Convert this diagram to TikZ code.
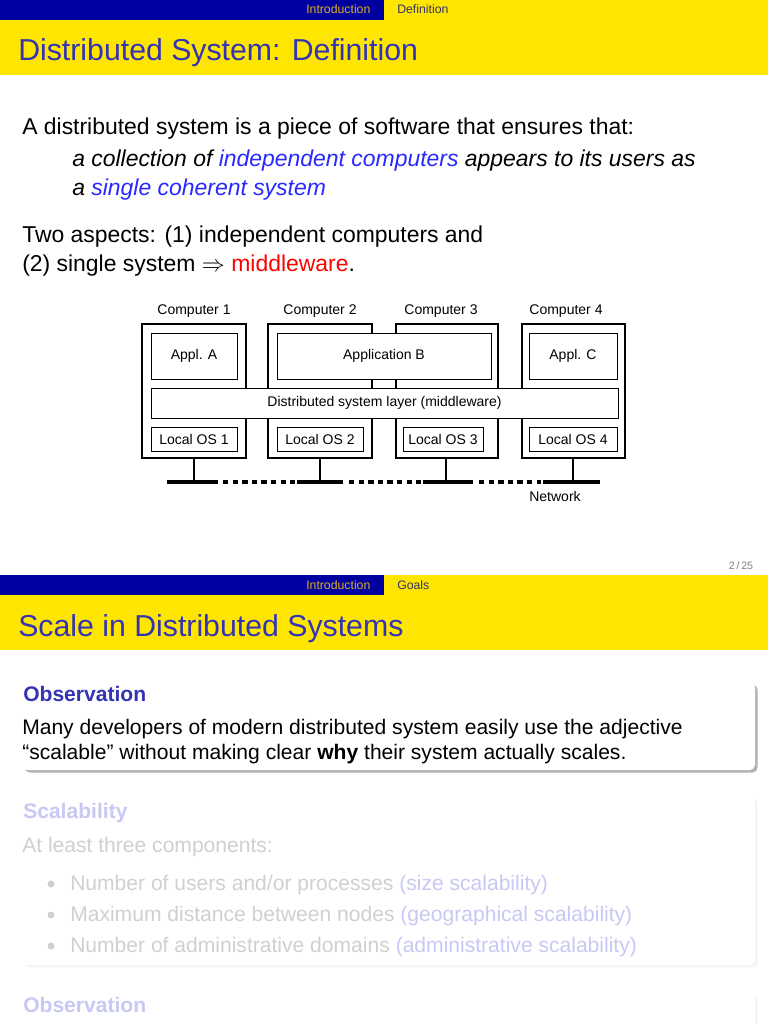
\documentclass[tikz,border=0pt]{standalone}
\usepackage{fontspec}
\setmainfont{Liberation Sans}
\usepackage{amssymb}
\usetikzlibrary{shadows}
\definecolor{navblue}{RGB}{0,0,160}
\definecolor{slideyellow}{RGB}{255,230,0}
\definecolor{titleblue}{RGB}{51,51,179}
\definecolor{navgold}{RGB}{220,175,40}
\definecolor{navdark}{RGB}{50,50,100}
\definecolor{linkblue}{RGB}{40,40,255}
\definecolor{fadegray}{RGB}{208,208,208}
\definecolor{fadeblue}{RGB}{200,200,245}
\begin{document}
\begin{tikzpicture}[x=0.75pt,y=-0.75pt,
  txt/.style={inner sep=0,anchor=base west,font=\fontsize{17.2}{20}\selectfont},
  ttl/.style={inner sep=0,anchor=base west,text=titleblue,font=\fontsize{22.7}{26}\selectfont},
  nav/.style={inner sep=0,anchor=base west,font=\fontsize{9.2}{11}\selectfont},
  comp/.style={draw,line width=1.3pt},
  inbox/.style={draw,fill=white,line width=0.7pt,font=\fontsize{10.5}{12}\selectfont},
  lbl/.style={font=\fontsize{10.5}{12}\selectfont,inner sep=0},
  net/.style={line width=2.6pt},
  netd/.style={line width=2.6pt,dash pattern=on 4pt off 3.2pt},
  btxt/.style={txt,font=\fontsize{15.8}{18}\selectfont},
  bhd/.style={txt,font=\bfseries\fontsize{15.8}{18}\selectfont},
  blk/.style={rounded corners=4pt,fill=white,drop shadow={shadow xshift=2pt,shadow yshift=-2pt,opacity=0.6}},
  fblk/.style={rounded corners=4pt,fill=white,drop shadow={shadow xshift=2pt,shadow yshift=-2pt,opacity=0.08}},
  stem/.style={line width=2pt}]
\useasboundingbox (0,0) rectangle (768,1024);
\fill[white] (0,0) rectangle (768,1024);
% ---- slide 1
\fill[navblue] (0,0) rectangle (384,20);
\fill[slideyellow] (384,0) rectangle (768,20);
\fill[slideyellow] (0,20) rectangle (768,75);
\node[nav,text=navgold] (n1) at (306,14) {Introduction};
\node[nav,text=navdark] (n2) at (397,14) {Definition};
\node[ttl] (t1) at (18,61) {Distributed System: Definition};
\node[txt] (p1) at (22,134) {A distributed system is a piece of software that ensures that:};
\node[txt] (p2) at (72,166) {\itshape a collection of \textcolor{linkblue}{independent computers} appears to its users as};
\node[txt] (p3) at (72,195) {\itshape a \textcolor{linkblue}{single coherent system}};
\node[txt] (p4) at (22,242) {Two aspects: (1) independent computers and};
\node[txt] (p5) at (22,271) {(2) single system $\Rightarrow$ \textcolor{red}{middleware}.};
% diagram
\draw[comp] (142,324) rectangle (246,458);
\draw[comp] (268,324) rectangle (372,458);
\draw[comp] (396,324) rectangle (498,458);
\draw[comp] (522,324) rectangle (625,458);
\node[lbl] (c1) at (194,311) {Computer 1};
\node[lbl] (c2) at (320,311) {Computer 2};
\node[lbl] (c3) at (441,311) {Computer 3};
\node[lbl] (c4) at (566,311) {Computer 4};
\draw[inbox] (151,333) rectangle node (aa) {Appl. A} (237,379);
\draw[inbox] (277,333) rectangle node (ab) {Application B} (491,379);
\draw[inbox] (529,333) rectangle node (ac) {Appl. C} (617,379);
\draw[inbox] (151,388) rectangle node (mw) {Distributed system layer (middleware)} (618,418);
\draw[inbox] (151,427) rectangle node (o1) {Local OS 1} (237,451);
\draw[inbox] (277,427) rectangle node (o2) {Local OS 2} (363,451);
\draw[inbox] (403,427) rectangle node (o3) {Local OS 3} (483,451);
\draw[inbox] (529,427) rectangle node (o4) {Local OS 4} (617,451);
\coordinate (s1) at (194,482); \coordinate (s2) at (320,482);
\coordinate (s3) at (446,482); \coordinate (s4) at (573,482);
\draw[stem] (194,458) -- (s1); \draw[stem] (320,458) -- (s2);
\draw[stem] (446,458) -- (s3); \draw[stem] (573,458) -- (s4);
\draw[net] (167,482) -- (218,482);
\draw[netd] (223,482) -- (295,482);
\draw[net] (297,482) -- (343,482);
\draw[netd] (349,482) -- (421,482);
\draw[net] (423,482) -- (473,482);
\draw[netd] (479,482) -- (541,482);
\draw[net] (543,482) -- (600,482);
\node[lbl] (nw) at (555,496) {Network};
\node[inner sep=0,text=gray,font=\fontsize{8}{9}\selectfont] (pg) at (741,566) {2\,/\,25};
% ---- slide 2
\fill[navblue] (0,575) rectangle (384,595);
\fill[slideyellow] (384,575) rectangle (768,595);
\fill[slideyellow] (0,595) rectangle (768,650);
\node[nav,text=navgold] (n3) at (306,589) {Introduction};
\node[nav,text=navdark] (n4) at (397,589) {Goals};
\node[ttl] (t2) at (18,636) {Scale in Distributed Systems};
\path[blk] (22,682) rectangle (755,770);
\node[bhd,text=titleblue] (o1h) at (23,701) {Observation};
\node[btxt] (o1a) at (22,734) {Many developers of modern distributed system easily use the adjective};
\node[btxt] (o1b) at (22,759) {``scalable'' without making clear \textbf{why} their system actually scales.};
\path[fblk] (22,795) rectangle (755,965);
\node[bhd,text=fadeblue] (sh) at (23,818) {Scalability};
\node[btxt,text=fadegray] (sa) at (22,852) {At least three components:};
\fill[fadegray] (51,884) circle (3.5);
\fill[fadegray] (51,915) circle (3.5);
\fill[fadegray] (51,946) circle (3.5);
\node[btxt,text=fadegray] (b1) at (70,890) {Number of users and/or processes \textcolor{fadeblue}{(size scalability)}};
\node[btxt,text=fadegray] (b2) at (70,921) {Maximum distance between nodes \textcolor{fadeblue}{(geographical scalability)}};
\node[btxt,text=fadegray] (b3) at (70,952) {Number of administrative domains \textcolor{fadeblue}{(administrative scalability)}};
\path[fblk] (22,992) rectangle (755,1040);
\node[bhd,text=fadeblue] (oh2) at (23,1012) {Observation};
\end{tikzpicture}
\end{document}
